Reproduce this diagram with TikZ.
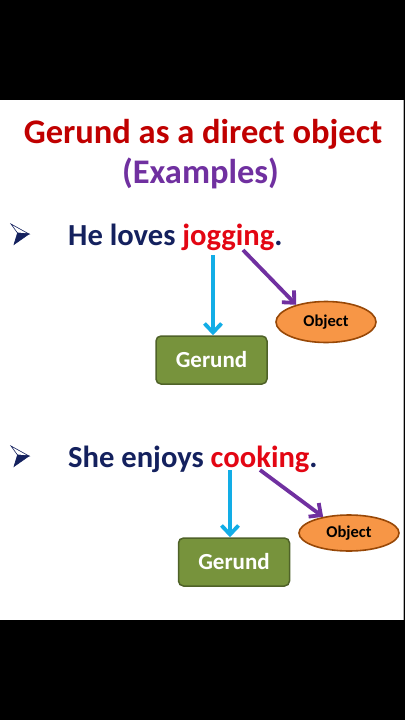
\documentclass[tikz,border=0pt]{standalone}
\usepackage{fontspec}
\setmainfont{Carlito}
\usetikzlibrary{arrows.meta,shapes.geometric}
\definecolor{titlered}{HTML}{C00000}
\definecolor{expurple}{HTML}{7030A0}
\definecolor{navy}{HTML}{14215E}
\definecolor{wordred}{HTML}{E30613}
\definecolor{arrblue}{HTML}{12ADE6}
\definecolor{boxgreen}{HTML}{77933C}
\definecolor{boxedge}{HTML}{4F6228}
\definecolor{objfill}{HTML}{F79646}
\definecolor{objedge}{HTML}{984807}
\tikzset{
  x=1pt, y=-1pt,
  sentence/.style={anchor=base west, inner sep=0, font=\fontsize{30.6}{36}\selectfont\bfseries, text=navy},
  gerundbox/.style={draw=boxedge, line width=1.5pt, fill=boxgreen, rounded corners=5pt,
     minimum width=111pt, minimum height=48pt, inner sep=0, text=white, font=\fontsize{23}{27}\selectfont\bfseries},
  objectell/.style={ellipse, draw=objedge, line width=1.6pt, fill=objfill, inner sep=0,
     minimum width=100pt, font=\fontsize{16.5}{19}\selectfont\bfseries, text=black},
  bluearrow/.style={draw=arrblue, line width=3.8pt, -{Straight Barb[length=9pt,width=17pt]}},
  purplearrow/.style={draw=expurple, line width=3.8pt, -{Straight Barb[length=9pt,width=17pt]}},
  bulletup/.style={fill=white, draw=navy, line width=0.6pt, line join=miter},
  bulletdown/.style={fill=navy, draw=navy, line width=0.6pt, line join=miter}
}
\begin{document}
\begin{tikzpicture}
\useasboundingbox (0,0) rectangle (405,720);
\fill[black] (0,0) rectangle (405,720);
\fill[white] (0,100) rectangle (403,620);
\draw[gray!60, line width=0.8pt] (403.4,100) -- (403.4,620);

% title
\node[anchor=base, inner sep=0, font=\fontsize{34.5}{40}\selectfont\bfseries, text=titlered]
  (title) at (203,143) {Gerund as a direct object};
\node[anchor=base, inner sep=0, font=\fontsize{34.5}{40}\selectfont\bfseries, text=expurple]
  (examples) at (200.5,183) {(Examples)};

% bullet 1
\filldraw[bulletup] (11,224) -- (29,234) -- (17.5,233) -- cycle;
\filldraw[bulletdown] (17.5,233) -- (29,234) -- (14,244.5) -- cycle;
% sentence 1
\node[sentence] (s1) at (68,245) {He loves \textcolor{wordred}{jogging}.};
\coordinate (j1b) at (213,255);
\coordinate (j1p) at (243,250);
\node[gerundbox] (g1) at (211.5,360) {Gerund};
\node[objectell, minimum height=41pt] (o1) at (326,322) {Object};
\draw[bluearrow] (j1b) -- (j1b |- g1.north);
\draw[purplearrow] (j1p) -- (o1.150);

% bullet 2
\filldraw[bulletup] (11,446) -- (29,456) -- (17.5,455) -- cycle;
\filldraw[bulletdown] (17.5,455) -- (29,456) -- (14,466.5) -- cycle;
% sentence 2
\node[sentence] (s2) at (68,467) {She enjoys \textcolor{wordred}{cooking}.};
\coordinate (c2b) at (230,470);
\coordinate (c2p) at (260,470);
\node[gerundbox] (g2) at (234,562) {Gerund};
\node[objectell, minimum height=36pt] (o2) at (349,533) {Object};
\draw[bluearrow] (c2b) -- (c2b |- g2.north);
\draw[purplearrow] (c2p) -- (o2.148);
\end{tikzpicture}
\end{document}
